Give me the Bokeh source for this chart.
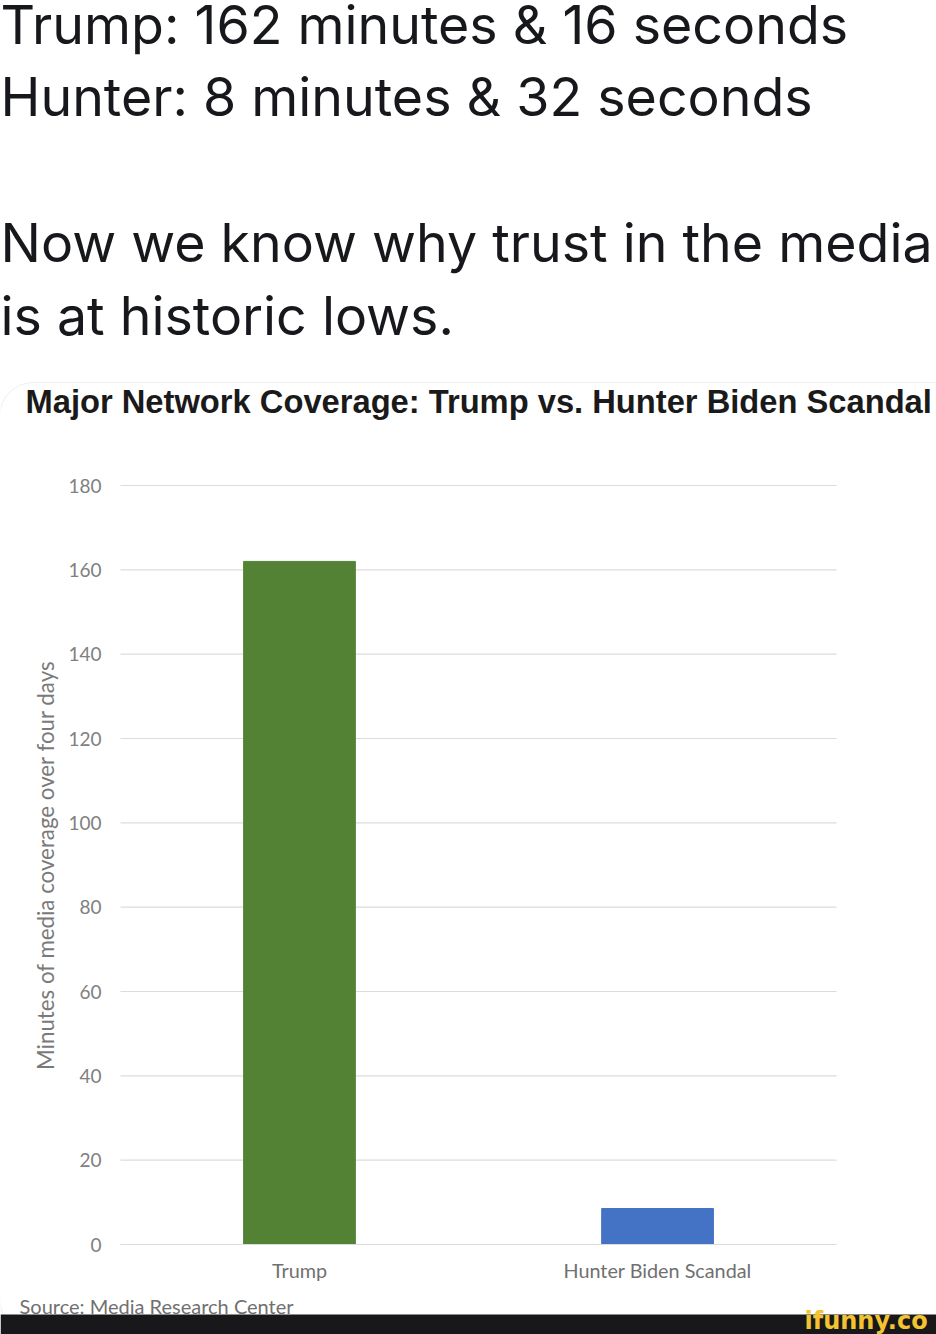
from bokeh.embed import file_html
from bokeh.resources import INLINE
from bokeh.plotting import figure
from bokeh.models import Label, BoxAnnotation, FixedTicker, ColumnDataSource, Range1d

categories = ["Trump", "Hunter Biden Scandal"]
minutes = [162, 8.53]
bar_colors = ["#548235", "#4472C4"]
y_ticks = [0, 20, 40, 60, 80, 100, 120, 140, 160, 180]
y_label = "Minutes of media coverage over four days"
headline = ["Trump: 162 minutes & 16 seconds", "Hunter: 8 minutes & 32 seconds",
            "Now we know why trust in the media", "is at historic lows."]
chart_title = "Major Network Coverage: Trump vs. Hunter Biden Scandal"
source_note = "Source: Media Research Center"
watermark = "ifunny.co"

positions = list(range(len(categories)))
# The frame fills the whole page so headline and card texts are not clipped;
# the ranges put the chart's plot area where the reference has it.
p = figure(width=936, height=1334, output_backend="svg", toolbar_location=None,
           x_range=Range1d(-0.835, 1.779), y_range=Range1d(-21.34, 295.02),
           min_border=0, min_border_left=0, min_border_right=0, min_border_top=0, min_border_bottom=0,
           background_fill_color="white", border_fill_color=None, outline_line_color=None)

p.xgrid.visible = False
p.ygrid.visible = False
n = len(y_ticks)
p.segment(x0=[-0.5] * n, x1=[1.5] * n, y0=y_ticks, y1=y_ticks, line_color="#dcdcdc", line_width=1.2)

src = ColumnDataSource(dict(pos=positions, val=minutes, col=bar_colors))
p.vbar(x="pos", top="val", bottom=0, width=0.312, color="col", source=src)

ya = p.yaxis[0]
ya.fixed_location = -0.5
ya.bounds = (0, 180)
ya.ticker = FixedTicker(ticks=y_ticks)
ya.axis_line_color = None
ya.major_tick_line_color = None
ya.minor_tick_line_color = None
ya.major_tick_out = 0
ya.major_tick_in = 0
ya.major_label_standoff = 19
ya.major_label_text_font = "Lato"
ya.major_label_text_font_size = "19px"
ya.major_label_text_color = "#808080"
ya.axis_label = y_label
ya.axis_label_text_font = "Lato"
ya.axis_label_text_font_style = "normal"
ya.axis_label_text_font_size = "22.3px"
ya.axis_label_text_color = "#7a7a7a"
ya.axis_label_standoff = 6

xa = p.xaxis[0]
xa.fixed_location = 0
xa.bounds = (-0.5, 1.5)
xa.ticker = FixedTicker(ticks=positions)
xa.major_label_overrides = dict(zip(positions, categories))
xa.axis_line_color = "#dcdcdc"
xa.axis_line_width = 1.2
xa.major_tick_line_color = None
xa.minor_tick_line_color = None
xa.major_tick_out = 0
xa.major_tick_in = 0
xa.major_label_standoff = 13
xa.major_label_text_font = "Lato"
xa.major_label_text_font_size = "19.8px"
xa.major_label_text_color = "#707070"


def text(s, x, y, size, font, color, style="normal", baseline="alphabetic"):
    p.add_layout(Label(x=x, y=y, x_units="canvas", y_units="canvas", text=s,
                       text_font=font, text_font_size=size, text_color=color,
                       text_font_style=style, text_baseline=baseline))


for line, base in zip(headline, [24, 96, 242, 315]):
    text(line, 0, base, "53.7px", "Inter", "#16181c")

text(chart_title, 25, 401, "32.7px", "Liberation Sans", "#1a1a1a", "bold")
text(source_note, 19, 1305, "20px", "Lato", "#707070")

p.add_layout(BoxAnnotation(left=-1, right=966, top=382, bottom=1332,
                           left_units="canvas", right_units="canvas",
                           top_units="canvas", bottom_units="canvas",
                           fill_alpha=0, line_color="#c8c8c8", line_width=1,
                           border_radius=34))
p.add_layout(BoxAnnotation(left=0, right=936, top=1314, bottom=1334,
                           left_units="canvas", right_units="canvas",
                           top_units="canvas", bottom_units="canvas",
                           fill_color="#18181a", fill_alpha=1, line_color=None))
text(watermark, 804, 1320, "24px", "DejaVu Sans", "#f4c430", "bold")

open("out.html", "w").write(file_html(p, INLINE))
